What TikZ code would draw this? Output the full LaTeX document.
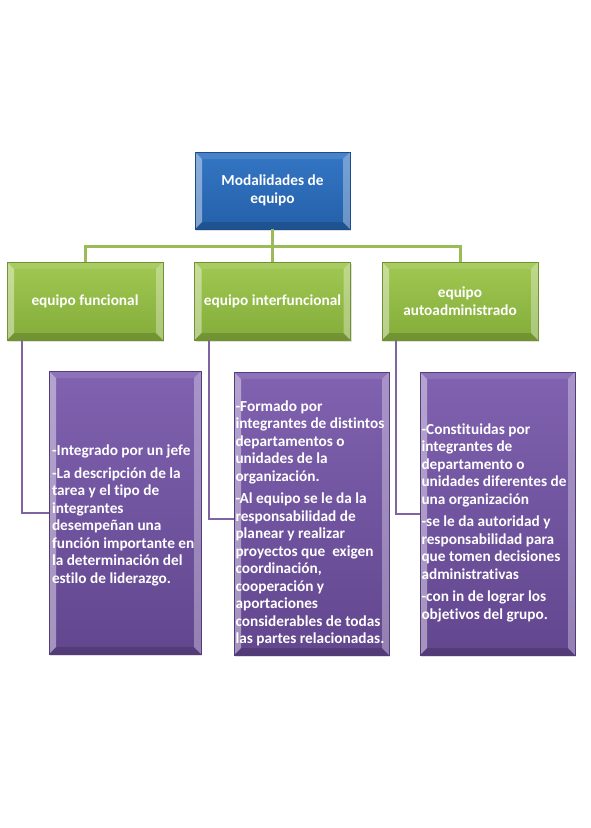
\documentclass[tikz,border=0pt]{standalone}
\usepackage{fontspec}
\setmainfont{Carlito}[Ligatures=NoCommon]
\usepackage{tikz}
\usetikzlibrary{positioning, shadows}

\definecolor{azulA}{RGB}{52,118,196}
\definecolor{azulB}{RGB}{36,96,170}
\definecolor{verdeA}{RGB}{160,200,82}
\definecolor{verdeB}{RGB}{132,172,58}
\definecolor{moradoA}{RGB}{128,98,176}
\definecolor{moradoB}{RGB}{98,70,142}
\definecolor{lineaverde}{RGB}{155,187,89}
\definecolor{lineamorada}{RGB}{128,100,162}

\begin{document}
\begin{tikzpicture}[x=1pt, y=-1pt, on grid,
	bevel/.style={path picture={
		\coordinate (bnw) at (path picture bounding box.north west);
		\coordinate (bne) at (path picture bounding box.north east);
		\coordinate (bsw) at (path picture bounding box.south west);
		\coordinate (bse) at (path picture bounding box.south east);
		\fill[white, opacity=.42] (bsw) -- ([shift={(7pt,7pt)}]bsw) -- ([shift={(7pt,-7pt)}]bnw) -- (bnw) -- cycle;
		\fill[white, opacity=.32] (bse) -- ([shift={(-7pt,7pt)}]bse) -- ([shift={(-7pt,-7pt)}]bne) -- (bne) -- cycle;
		\fill[white, opacity=.10] (bnw) -- ([shift={(7pt,-7pt)}]bnw) -- ([shift={(-7pt,-7pt)}]bne) -- (bne) -- cycle;
		\fill[black, opacity=.15] (bsw) -- ([shift={(7pt,7pt)}]bsw) -- ([shift={(-7pt,7pt)}]bse) -- (bse) -- cycle;
	}},
	caja/.style={rectangle, bevel, text=white, align=center, inner sep=2pt,
		font=\fontsize{15.3}{18}\selectfont\bfseries,
		drop shadow={opacity=.25, shadow xshift=1pt, shadow yshift=-2pt}},
	mbox/.style={caja, top color=azulA, bottom color=azulB, draw=azulB!80!black,
		minimum width=155pt, minimum height=77pt},
	ebox/.style={caja, top color=verdeA, bottom color=verdeB, draw=verdeB!85!black,
		minimum width=156pt, minimum height=78pt},
	dbox/.style={caja, top color=moradoA, bottom color=moradoB, draw=moradoB!85!black,
		minimum width=155pt, minimum height=283pt},
	dtext/.style={anchor=west, text=white, align=left, inner sep=0pt,
		font=\fontsize{15.3}{17.5}\selectfont\bfseries},
	gline/.style={draw=lineaverde, line width=3pt},
	pline/.style={draw=lineamorada, line width=2pt}]
	\useasboundingbox (0,0) rectangle (590,828);
	\node[mbox] (m_0) at (272.5,190.5) {Modalidades de\\equipo};
	\node[ebox] (e_2) [below=110.5pt of m_0] {equipo interfuncional};
	\node[ebox] (e_1) [left=187.5pt of e_2] {equipo funcional};
	\node[ebox] (e_3) [right=187.5pt of e_2] {equipo\\autoadministrado};
	\node[dbox, minimum width=152pt] (d_1) [below right=211.5pt and 40pt of e_1] {};
	\node[dbox] (d_2) [below right=212.5pt and 39pt of e_2] {};
	\node[dbox] (d_3) [below right=212.5pt and 37.5pt of e_3] {};
	\coordinate (j_0) at ([yshift=-17pt]m_0.south);
	\path[gline]
		(m_0) -- (j_0)
		(j_0) -| (e_1)
		(j_0) -| (e_3)
		(j_0) -- (e_2);
	\path[pline]
		([xshift=15pt]e_1.south west) |- (d_1.west)
		([xshift=15pt]e_2.south west) |- ([yshift=-5pt]d_2.west)
		([xshift=14pt]e_3.south west) |- (d_3.west);
	\node[dtext] (t_1) at ([shift={(3pt,-3pt)}]d_1.west) {-Integrado por un jefe\\[5pt]
		-La descripción de la\\tarea y el tipo de\\integrantes\\desempeñan una\\función importante en\\la determinación del\\estilo de liderazgo.};
	\node[dtext] (t_2) at ([shift={(1.5pt,-10pt)}]d_2.west) {-Formado por\\integrantes de distintos\\departamentos o\\unidades de la\\organización.\\[5pt]
		-Al equipo se le da la\\responsabilidad de\\planear y realizar\\proyectos que\ \ exigen\\coordinación,\\cooperación y\\aportaciones\\considerables de todas\\las partes relacionadas.};
	\node[dtext] (t_3) at ([shift={(1.5pt,-9pt)}]d_3.west) {-Constituidas por\\integrantes de\\departamento o\\unidades diferentes de\\una organización\\[5pt]
		-se le da autoridad y\\responsabilidad para\\que tomen decisiones\\administrativas\\[5pt]
		-con in de lograr los\\objetivos del grupo.};
\end{tikzpicture}
\end{document}
